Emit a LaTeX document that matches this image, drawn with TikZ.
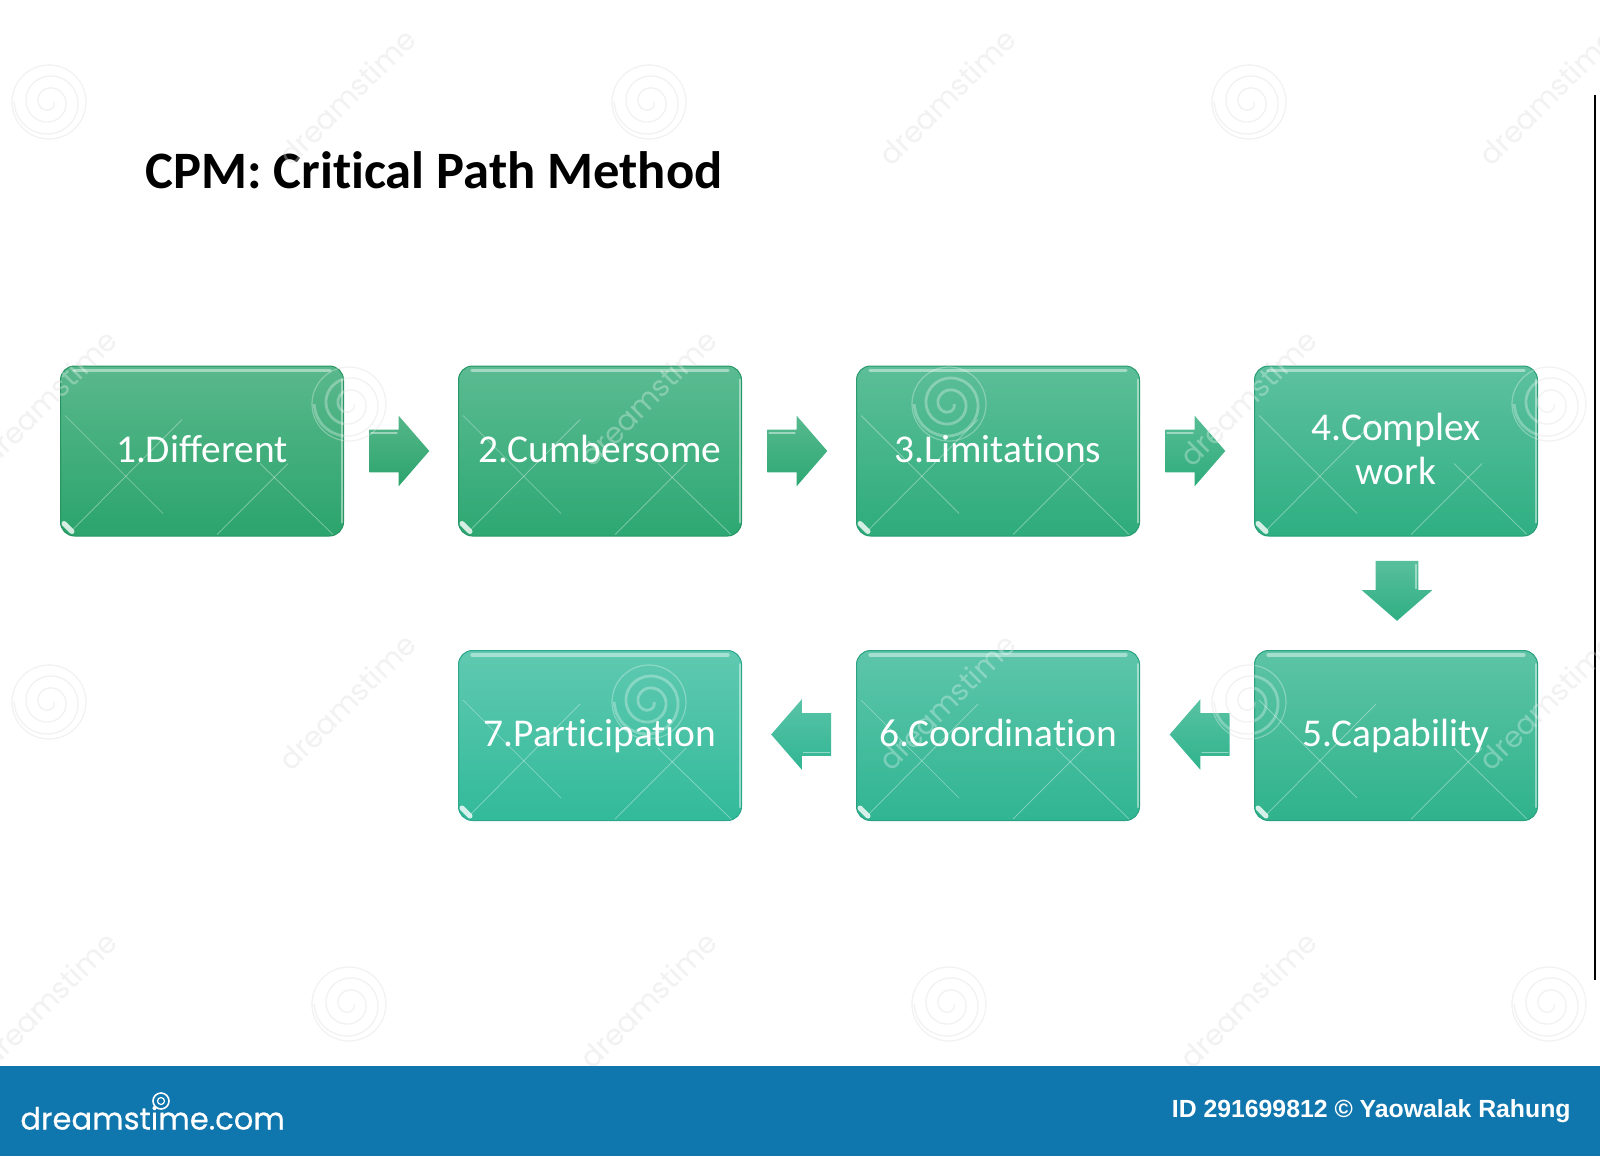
\documentclass[tikz,border=0pt]{standalone}
\usepackage{fontspec}
\setmainfont[Ligatures=CommonOff]{Carlito}
\newfontfamily\logofont[FakeBold=0.5]{Poppins}
\newfontfamily\markfont{Poppins}
\newfontfamily\idfont{Liberation Sans}
\usetikzlibrary{arrows.meta,positioning,shapes.arrows,calc}

\definecolor{stepa}{HTML}{2BA46C}
\definecolor{stepb}{HTML}{2DA873}
\definecolor{stepc}{HTML}{2EAC7B}
\definecolor{stepd}{HTML}{2FAF83}
\definecolor{stepe}{HTML}{2FB38C}
\definecolor{stepf}{HTML}{30B592}
\definecolor{stepg}{HTML}{32BA9A}
\definecolor{footblue}{HTML}{0F76AE}

\tikzset{
  box/.style={rectangle,rounded corners=7pt,minimum width=141.5pt,minimum height=85pt,
    inner sep=0pt,align=center,text=white,font=\fontsize{19.7}{22}\selectfont,
    text height=15pt,text depth=3.8pt,
    draw=#1!90!black,line width=0.5pt,top color=#1!78!white,bottom color=#1},
  blockarrow/.style={single arrow,minimum height=30pt,minimum width=35pt,
    inner xsep=0pt,inner ysep=10.5pt,
    single arrow head extend=7pt,single arrow tip angle=98,
    top color=#1!80!white,bottom color=#1},
  glint/.style={white,line width=0.35pt,opacity=0.4},
  shine/.style={white,line width=1.6pt,opacity=0.45,line cap=round},
  wmgray/.style={draw=black!7,text=black!7},
  wmwhite/.style={draw=white,text=white,opacity=0.3},
}

% Watermark grid
\newcommand{\wmarks}[2]{
  \foreach \x/\y [count=\n] in {49/102,649/102,1249/102,349/404,949/404,1549/404,49/702,649/702,1249/702,349/1004,949/1004,1549/1004}{
    \draw[#1,line width=#2,shift={(\x,\y)}] plot[smooth,domain=0:900,samples=50,variable=\t] ({(5+\t/30)*cos(\t)},{(5+\t/30)*sin(\t)});
    \coordinate (#1c\n) at (\x,\y);
    \draw[#1,line width=0.6pt] (#1c\n) circle (37);
  }
  \foreach \x/\y [count=\n] in {347/97,947/97,1547/97,48/398,648/398,1248/398,347/702,947/702,1547/702,48/1000,648/1000,1248/1000}{
    \node[#1,draw=none,rotate=45,font=\markfont\fontsize{14.5}{15}\selectfont] (#1t\n) at (\x,\y) {dreamstime};
  }
}

\begin{document}
\begin{tikzpicture}[x=0.5pt,y=-0.5pt]
\useasboundingbox (0,0) rectangle (1600,1156);

% Watermark under the boxes
\wmarks{wmgray}{0.7pt}

% Title
\node[anchor=west,inner sep=0pt,font=\bfseries\fontsize{26.3}{30}\selectfont] (title) at (145,170) {CPM: Critical Path Method};

% Top row
\node[box=stepa] (b1) at (202,451) {1.Different};
\node[box=stepb] (b2) at (600,451) {2.Cumbersome};
\node[box=stepc] (b3) at (998,451) {3.Limitations};
\node[box=stepd,text height=37.4pt] (b4) at (1396,451) {4.Complex\\work};

% Bottom row
\node[box=stepe] (b5) at (1396,735.5) {5.Capability};
\node[box=stepf] (b6) at (998,735.5) {6.Coordination};
\node[box=stepg] (b7) at (600,735.5) {7.Participation};

% Block arrows between the boxes
\node[blockarrow=stepa] (a12) at (390,451) {};
\node[blockarrow=stepb] (a23) at (788,451) {};
\node[blockarrow=stepc] (a34) at (1186,451) {};
\node[blockarrow=stepd,shape border rotate=270,inner xsep=10.5pt,inner ysep=0pt] (a45) at (1397,581.5) {};
\node[blockarrow=stepe,shape border rotate=180] (a56) at (1209,734.5) {};
\node[blockarrow=stepf,shape border rotate=180] (a67) at (810.5,734.5) {};

% Glass effect
\foreach \b in {b1,b2,b3,b4,b5,b6,b7}{
  \draw[glint] ($(\b.north west)+(5,50)$) -- ($(\b.north west)+(103,148)$);
  \draw[glint] ($(\b.north west)+(122,54)$) -- ($(\b.north west)+(13,164)$);
  \draw[glint] ($(\b.north west)+(200,98)$) -- ($(\b.north west)+(273,169)$);
  \draw[glint] ($(\b.north west)+(228,98)$) -- ($(\b.north west)+(157,169)$);
  \draw[shine] ($(\b.north west)+(14,5)$) -- ($(\b.north east)+(-14,5)$);
  \draw[shine,line width=1pt] ($(\b.north east)+(-2,14)$) -- ($(\b.south east)+(-2,-14)$);
  \draw[shine,opacity=0.8,line width=2.5pt] ($(\b.south west)+(4,-13)$) -- ($(\b.south west)+(12,-5)$);
}

% Arrow highlights
\foreach \a in {a12,a23,a34}{
  \draw[shine,line width=0.6pt] ($(\a)+(-19,-18)$) -- ($(\a)+(7,-18)$);
}
\draw[shine,line width=0.8pt] ($(a45)+(19,-17)$) -- ($(a45)+(19,7)$);
\foreach \a in {a56,a67}{
  \draw[shine,line width=0.6pt] ($(\a)+(-7,18)$) -- ($(\a)+(19,18)$);
}

% Line at the right
\coordinate (ruletop) at (1595,95);
\coordinate (rulebot) at (1595,980);
\draw[black,line width=0.7pt] (ruletop) -- (rulebot);

% Footer
\node[anchor=north west,rectangle,fill=footblue,minimum width=800pt,minimum height=45pt,inner sep=0pt] (footer) at (0,1066) {};
\node[anchor=west,inner sep=0pt,text=white,font=\logofont\fontsize{15.3}{18}\selectfont] (logo) at (20,1118) {dreamstime.com};
\node[draw=white,circle,line width=0.8pt,minimum size=8pt,inner sep=0pt] (logoring) at (161,1101) {};
\node[draw=white,circle,line width=0.6pt,minimum size=3.5pt,inner sep=0pt] (logocore) at (logoring) {};
\node[anchor=east,inner sep=0pt,text=white,font=\idfont\bfseries\fontsize{12.4}{14}\selectfont] (credit) at (1571,1111) {ID 291699812 © Yaowalak Rahung};

% Watermark over the boxes
\wmarks{wmwhite}{1.4pt}
\end{tikzpicture}
\end{document}
